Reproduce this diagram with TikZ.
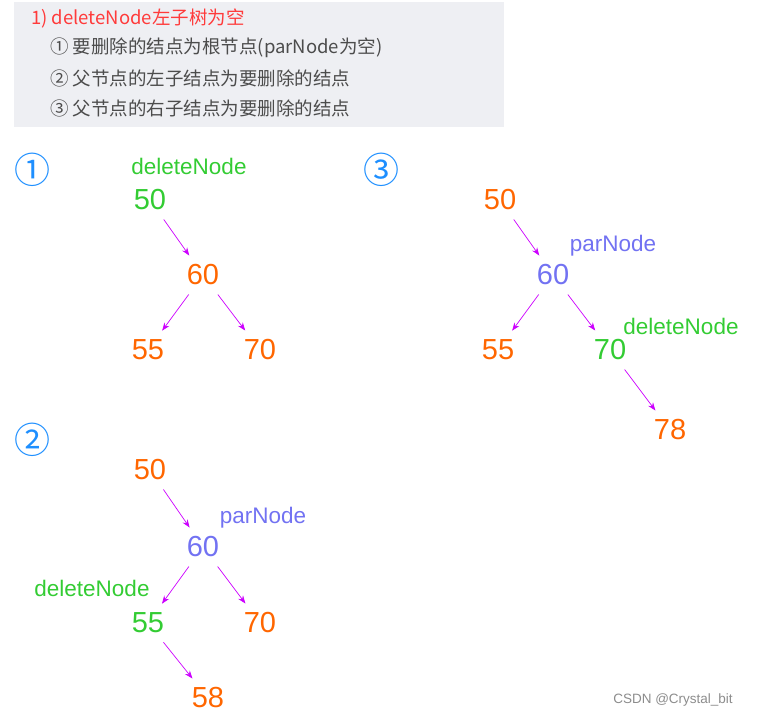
\documentclass[tikz,border=0pt]{standalone}
\usepackage{fontspec}
\setmainfont{Liberation Sans}
\newfontfamily\cjk{Noto Sans CJK SC}
\usetikzlibrary{arrows.meta}
\definecolor{gn}{HTML}{33CC33}
\definecolor{og}{HTML}{FF6600}
\definecolor{pu}{HTML}{7272F2}
\definecolor{rd}{HTML}{FF3B3B}
\definecolor{bl}{HTML}{1E8FFF}
\definecolor{ar}{HTML}{CC00FF}
\definecolor{bx}{HTML}{EEEFF3}
\tikzset{
 num/.style={font=\fontsize{29}{30}\selectfont, inner sep=9pt},
 lab/.style={font=\fontsize{22.5}{24}\selectfont, inner sep=0pt},
 circ/.style={font=\cjk\fontsize{36}{38}\selectfont, text=bl, inner sep=0pt},
 hl/.style={font=\cjk\fontsize{18.5}{20}\selectfont, anchor=west, inner sep=0pt},
 arr/.style={draw=ar, -{Stealth[length=8pt,width=6pt]}, line width=0.7pt}
}
\begin{document}
\begin{tikzpicture}[x=1pt,y=-1pt]
\useasboundingbox (0,0) rectangle (758,719);
\fill[bx] (14,2) rectangle (504,127);
\node[hl, text=rd] (t0) at (31,18) {1) deleteNode左子树为空};
\node[hl, text=black!70] (t1) at (50,48) {① 要删除的结点为根节点(parNode为空)};
\node[hl, text=black!70] (t2) at (50,78) {② 父节点的左子结点为要删除的结点};
\node[hl, text=black!70] (t3) at (50,108) {③ 父节点的右子结点为要删除的结点};
\node[circ] (c1) at (32,170) {①};
\node[circ] (c3) at (381,170) {③};
\node[circ] (c2) at (32,440) {②};
% tree 1
\node[lab, text=gn] (d1) at (189,166) {deleteNode};
\node[num, text=gn] (a50) at (150,200) {50};
\node[num, text=og] (a60) at (203,275) {60};
\node[num, text=og] (a55) at (148,350) {55};
\node[num, text=og] (a70) at (260,350) {70};
\draw[arr] (a50) -- (a60);
\draw[arr] (a60) -- (a55);
\draw[arr] (a60) -- (a70);
% tree 3
\node[num, text=og] (c50) at (500,200) {50};
\node[lab, text=pu] (p3) at (613,246) {parNode};
\node[num, text=pu] (c60) at (553,275) {60};
\node[num, text=og] (c55) at (498,350) {55};
\node[num, text=gn] (c70) at (610,350) {70};
\node[lab, text=gn] (d3) at (681,326) {deleteNode};
\node[num, text=og] (c78) at (670,430) {78};
\draw[arr] (c50) -- (c60);
\draw[arr] (c60) -- (c55);
\draw[arr] (c60) -- (c70);
\draw[arr] (c70) -- (c78);
% tree 2
\node[num, text=og] (b50) at (150,470) {50};
\node[lab, text=pu] (p2) at (263,518) {parNode};
\node[num, text=pu] (b60) at (203,547) {60};
\node[lab, text=gn] (d2) at (92,588) {deleteNode};
\node[num, text=gn] (b55) at (148,623) {55};
\node[num, text=og] (b70) at (260,623) {70};
\node[num, text=og] (b58) at (208,698) {58};
\draw[arr] (b50) -- (b60);
\draw[arr] (b60) -- (b55);
\draw[arr] (b60) -- (b70);
\draw[arr] (b55) -- (b58);
\node[font=\fontsize{13.5}{14}\selectfont, text=black!45, inner sep=0pt] (wm) at (673,700) {CSDN @Crystal\_bit};
\end{tikzpicture}
\end{document}
